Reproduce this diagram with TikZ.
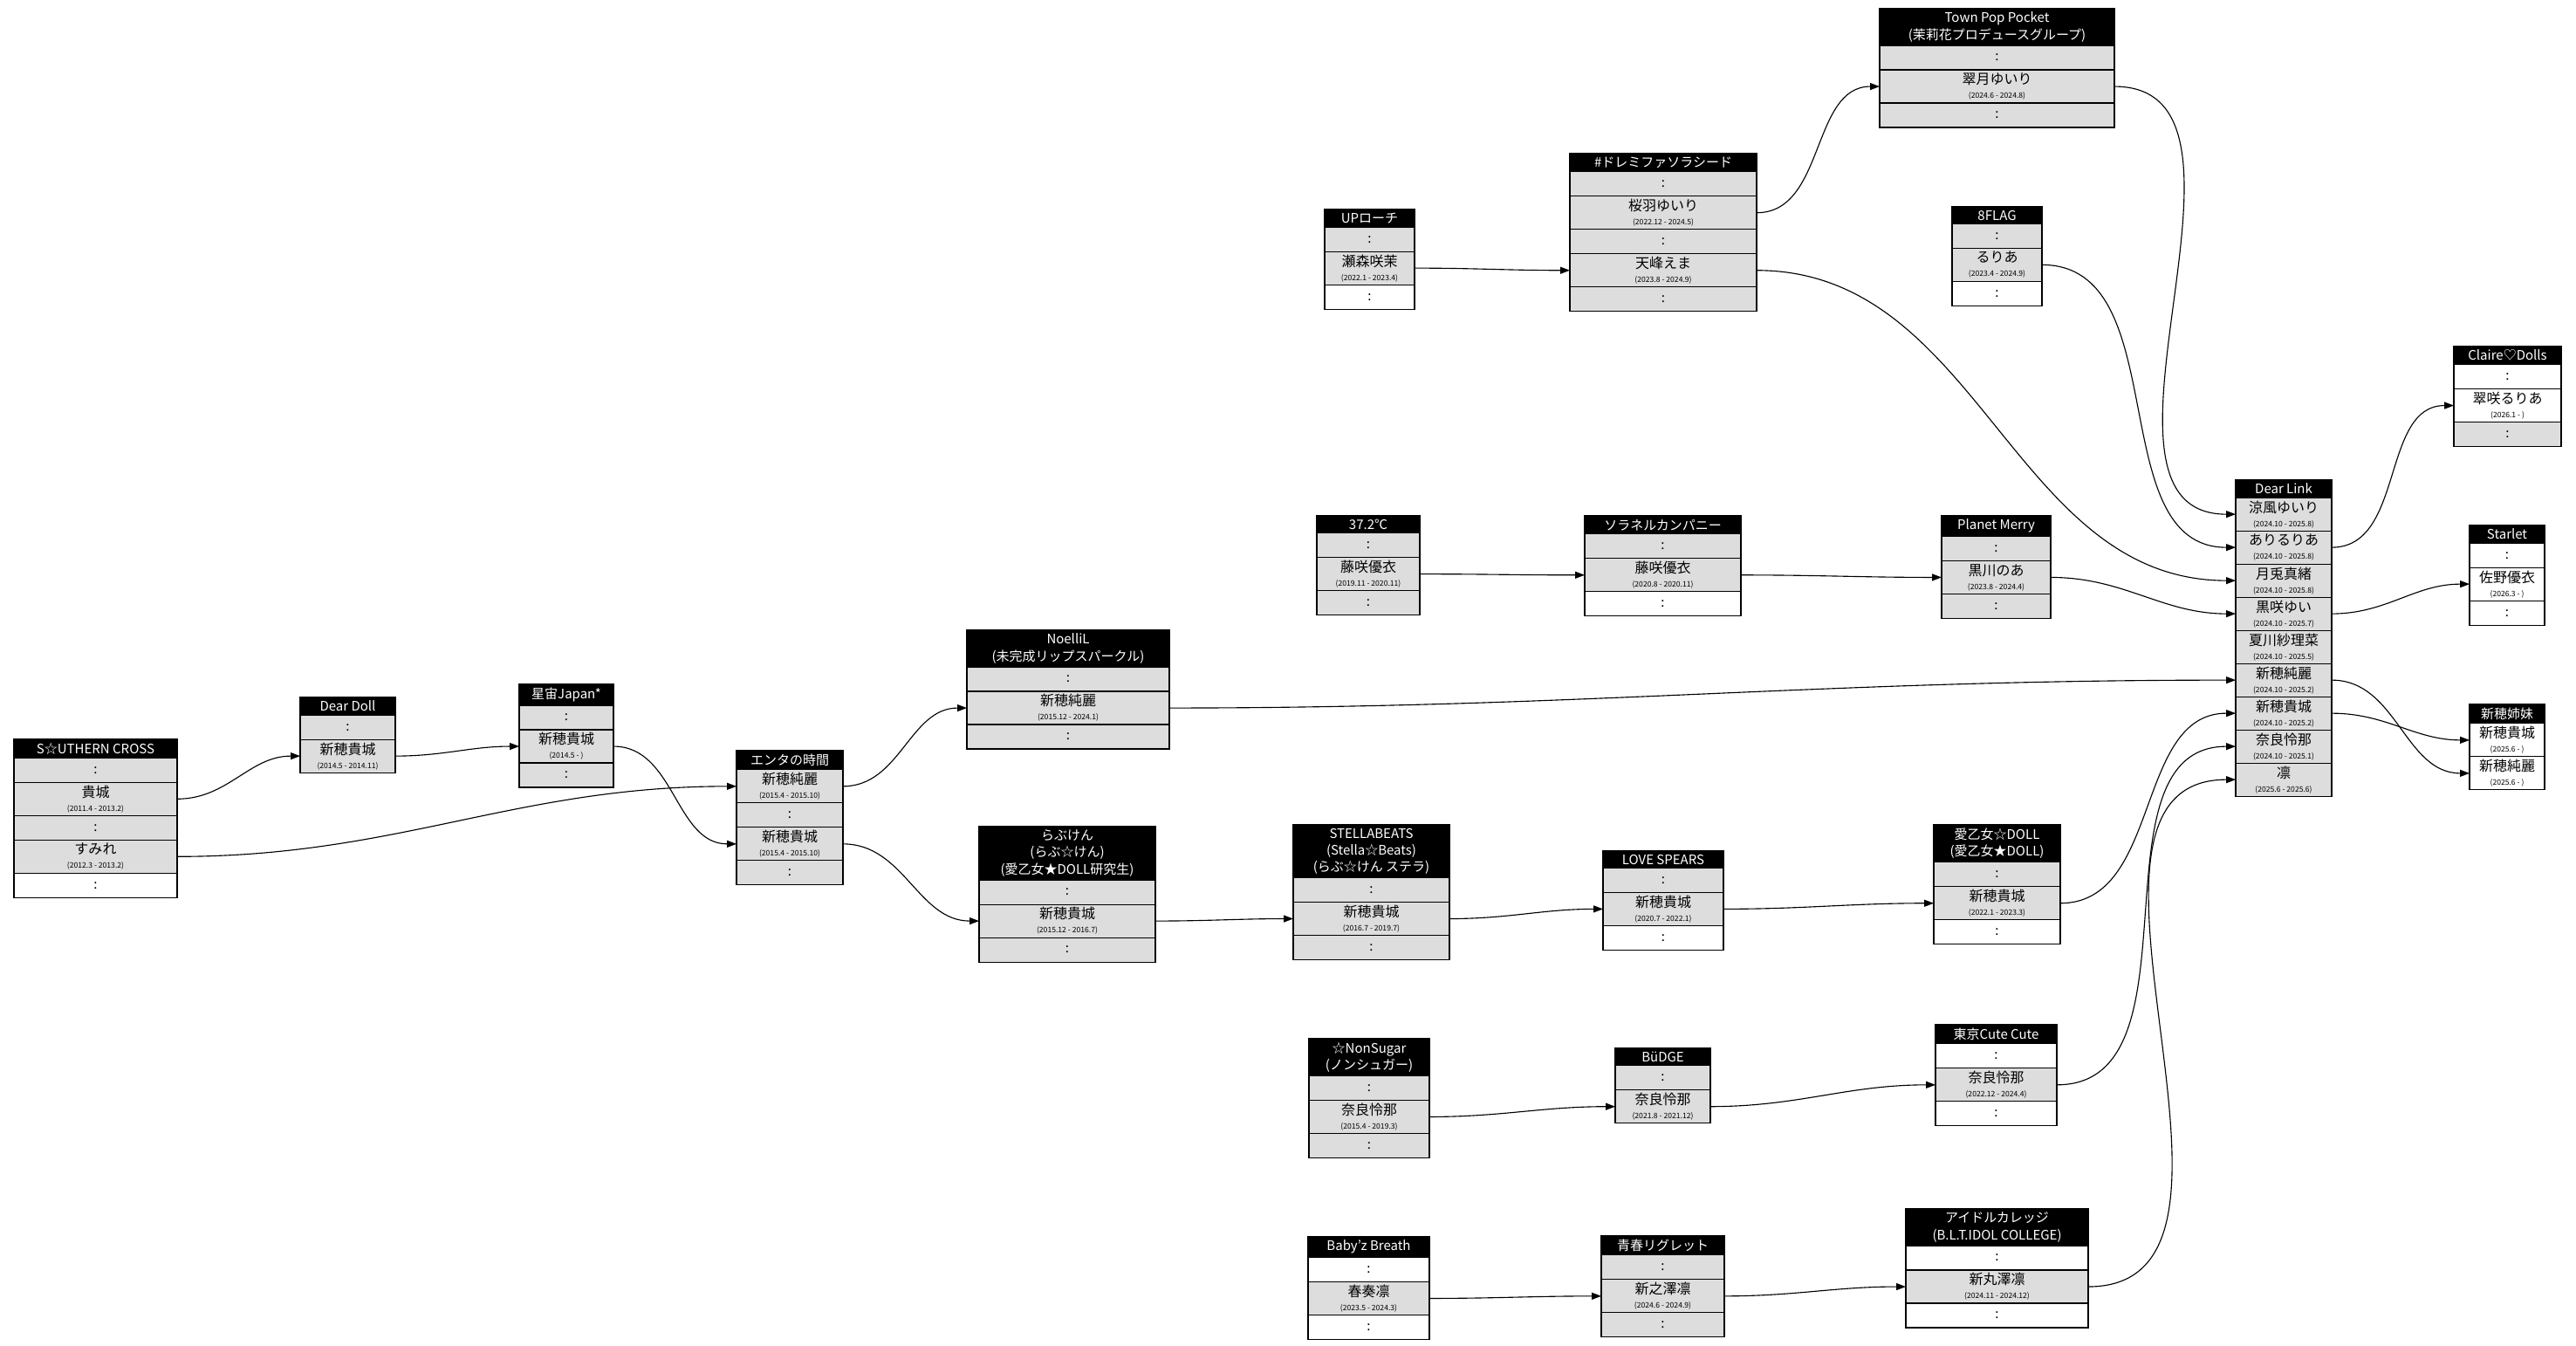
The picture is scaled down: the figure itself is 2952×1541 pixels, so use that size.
\documentclass[tikz,border=0pt]{standalone}
\usepackage{fontspec}
\setmainfont{Noto Sans CJK JP}
\usetikzlibrary{arrows.meta}
\definecolor{rowgray}{HTML}{DDDDDD}
\newcommand\dt[1]{{\fontsize{2.15}{2.6}\selectfont(#1)}}
% one group: name, left x, top y, width, header, rows
\newcommand\grp[6]{%
  \node[hdr, minimum width={#4*0.25pt}, anchor=north west, alias=#1-0] (#1) at (#2,#3) {#5};
  \foreach \s/\t [count=\i] in {#6}{
    \pgfmathtruncatemacro\j{\i-1}
    \node[\s, minimum width={#4*0.25pt}, anchor=north west] (#1-\i) at (#1-\j.south west) {\t};
  }%
}
\tikzset{
  cell/.style={draw=black, line width=0.3pt, outer sep=0pt, inner xsep=0.25pt, align=center},
  hdr/.style={cell, fill=black, text=white, inner ysep=1pt, font=\fontsize{3.75}{4.8}\selectfont},
  dg/.style={cell, fill=rowgray, minimum height=7pt, inner ysep=0pt, font=\fontsize{3.75}{4}\selectfont},
  dw/.style={dg, fill=white},
  ng/.style={cell, fill=rowgray, minimum height=9.5pt, inner ysep=0pt, font=\fontsize{4}{4}\selectfont},
  nw/.style={ng, fill=white},
  link/.style={-{Triangle[length=2.75pt,width=2pt]}, line width=0.28pt, out=0, in=180}
}
\begin{document}
\begin{tikzpicture}[x=0.25pt,y=-0.25pt]
\useasboundingbox (0,0) rectangle (2952,1541);
% left chain
\grp{sc}{16}{847}{187}{S☆UTHERN CROSS}{dg/:, ng/貴城\\\dt{2011.4 - 2013.2}, dg/:, ng/すみれ\\\dt{2012.3 - 2013.2}, dw/:}
\grp{ddoll}{344}{799}{109}{Dear Doll}{dg/:, ng/新穂貴城\\\dt{2014.5 - 2014.11}}
\grp{seichu}{595}{784}{108}{星宙Japan*}{dg/:, ng/新穂貴城\\\dt{2014.5 - }, dg/:}
\grp{enta}{844}{860}{122}{エンタの時間}{ng/新穂純麗\\\dt{2015.4 - 2015.10}, dg/:, ng/新穂貴城\\\dt{2015.4 - 2015.10}, dg/:}
\grp{noel}{1108}{722}{232}{NoelliL\\(未完成リップスパークル)}{dg/:, ng/新穂純麗\\\dt{2015.12 - 2024.1}, dg/:}
\grp{loveken}{1122}{947}{202}{らぶけん\\(らぶ☆けん)\\(愛乙女★DOLL研究生)}{dg/:, ng/新穂貴城\\\dt{2015.12 - 2016.7}, dg/:}
% middle groups
\grp{upr}{1518}{240}{103}{UPローチ}{dg/:, ng/瀬森咲茉\\\dt{2022.1 - 2023.4}, dw/:}
\grp{doremi}{1799}{176}{214}{\#ドレミファソラシード}{dg/:, ng/桜羽ゆいり\\\dt{2022.12 - 2024.5}, dg/:, ng/天峰えま\\\dt{2023.8 - 2024.9}, dg/:}
\grp{tpp}{2154}{10}{269}{Town Pop Pocket\\(茉莉花プロデュースグループ)}{dg/:, ng/翠月ゆいり\\\dt{2024.6 - 2024.8}, dg/:}
\grp{eflag}{2237}{237}{103}{8FLAG}{dg/:, ng/るりあ\\\dt{2023.4 - 2024.9}, dw/:}
\grp{c372}{1509}{591}{118}{37.2℃}{dg/:, ng/藤咲優衣\\\dt{2019.11 - 2020.11}, dg/:}
\grp{soranel}{1816}{591}{179}{ソラネルカンパニー}{dg/:, ng/藤咲優衣\\\dt{2020.8 - 2020.11}, dw/:}
\grp{pmerry}{2225}{591}{125}{Planet Merry}{dg/:, ng/黒川のあ\\\dt{2023.8 - 2024.4}, dg/:}
\grp{stella}{1482}{945}{179}{STELLABEATS\\(Stella☆Beats)\\(らぶ☆けん ステラ)}{dg/:, ng/新穂貴城\\\dt{2016.7 - 2019.7}, dg/:}
\grp{lspear}{1837}{975}{138}{LOVE SPEARS}{dg/:, ng/新穂貴城\\\dt{2020.7 - 2022.1}, dw/:}
\grp{otome}{2216}{945}{145}{愛乙女☆DOLL\\(愛乙女★DOLL)}{dg/:, ng/新穂貴城\\\dt{2022.1 - 2023.3}, dw/:}
\grp{nonsug}{1500}{1190}{138}{☆NonSugar\\(ノンシュガー)}{dg/:, ng/奈良怜那\\\dt{2015.4 - 2019.3}, dg/:}
\grp{budge}{1851}{1201}{109}{BüDGE}{dg/:, ng/奈良怜那\\\dt{2021.8 - 2021.12}}
\grp{tcc}{2218}{1174}{139}{東京Cute Cute}{dw/:, ng/奈良怜那\\\dt{2022.12 - 2024.4}, dw/:}
\grp{babyz}{1499}{1417}{139}{Baby’z Breath}{dw/:, ng/春奏凛\\\dt{2023.5 - 2024.3}, dw/:}
\grp{seishun}{1835}{1416}{141}{青春リグレット}{dg/:, ng/新之澤凛\\\dt{2024.6 - 2024.9}, dg/:}
\grp{college}{2184}{1385}{209}{アイドルカレッジ\\(B.L.T.IDOL COLLEGE)}{dw/:, ng/新丸澤凛\\\dt{2024.11 - 2024.12}, dw/:}
% right side
\grp{dlink}{2562}{550}{110}{Dear Link}{ng/涼風ゆいり\\\dt{2024.10 - 2025.8}, ng/ありるりあ\\\dt{2024.10 - 2025.8}, ng/月兎真緒\\\dt{2024.10 - 2025.8}, ng/黒咲ゆい\\\dt{2024.10 - 2025.7}, ng/夏川紗理菜\\\dt{2024.10 - 2025.5}, ng/新穂純麗\\\dt{2024.10 - 2025.2}, ng/新穂貴城\\\dt{2024.10 - 2025.2}, ng/奈良怜那\\\dt{2024.10 - 2025.1}, ng/凛\\\dt{2025.6 - 2025.6}}
\grp{claire}{2812}{397}{123}{Claire♡Dolls}{dw/:, nw/翠咲るりあ\\\dt{2026.1 - }, dg/:}
\grp{starlet}{2830}{602}{86}{Starlet}{dw/:, nw/佐野優衣\\\dt{2026.3 - }, dw/:}
\grp{shimai}{2830}{807}{86}{新穂姉妹}{nw/新穂貴城\\\dt{2025.6 - }, nw/新穂純麗\\\dt{2025.6 - }}
% links
\draw[link] (sc-2.east) to (ddoll-2.west);
\draw[link] (sc-4.east) to (enta-1.west);
\draw[link] (ddoll-2.east) to (seichu-2.west);
\draw[link] (seichu-2.east) to (enta-3.west);
\draw[link] (enta-1.east) to (noel-2.west);
\draw[link] (enta-3.east) to (loveken-2.west);
\draw[link] (loveken-2.east) to (stella-2.west);
\draw[link] (stella-2.east) to (lspear-2.west);
\draw[link] (lspear-2.east) to (otome-2.west);
\draw[link] (otome-2.east) to (dlink-7.west);
\draw[link] (noel-2.east) to (dlink-6.west);
\draw[link] (upr-2.east) to (doremi-4.west);
\draw[link] (doremi-2.east) to (tpp-2.west);
\draw[link] (tpp-2.east) to (dlink-1.west);
\draw[link] (doremi-4.east) to (dlink-3.west);
\draw[link] (eflag-2.east) to (dlink-2.west);
\draw[link] (c372-2.east) to (soranel-2.west);
\draw[link] (soranel-2.east) to (pmerry-2.west);
\draw[link] (pmerry-2.east) to (dlink-4.west);
\draw[link] (nonsug-2.east) to (budge-2.west);
\draw[link] (budge-2.east) to (tcc-2.west);
\draw[link] (tcc-2.east) to (dlink-8.west);
\draw[link] (babyz-2.east) to (seishun-2.west);
\draw[link] (seishun-2.east) to (college-2.west);
\draw[link] (college-2.east) to (dlink-9.west);
\draw[link] (dlink-2.east) to (claire-2.west);
\draw[link] (dlink-4.east) to (starlet-2.west);
\draw[link] (dlink-6.east) to (shimai-2.west);
\draw[link] (dlink-7.east) to (shimai-1.west);
\end{tikzpicture}
\end{document}
